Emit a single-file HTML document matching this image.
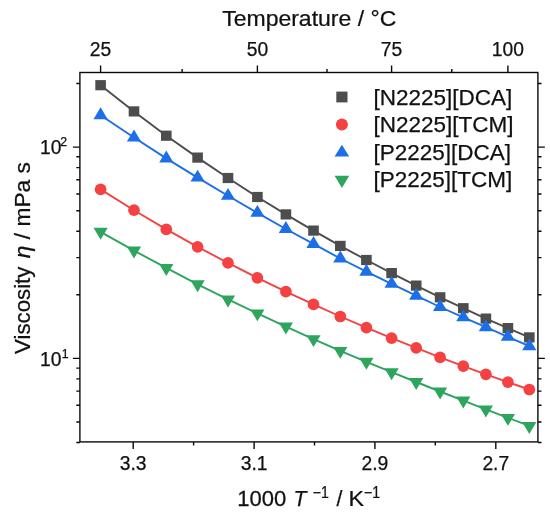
<!DOCTYPE html><html><head><meta charset="utf-8"><title>Viscosity</title>
<style>html,body{margin:0;padding:0;background:#fff}svg{display:block}text{font-family:"Liberation Sans",sans-serif;fill:#111;stroke:#111;stroke-width:0.25px}</style></head><body>
<svg width="550" height="516" viewBox="0 0 550 516">
<rect width="550" height="516" fill="#fff"/>
<polyline points="100.6,85.2 134.0,111.4 166.3,135.7 197.6,157.6 228.0,178.0 257.4,197.0 285.9,214.4 313.5,230.6 340.3,245.9 366.4,260.0 391.6,273.1 416.2,285.6 440.1,297.3 463.3,308.2 485.9,318.6 507.9,328.1 529.3,337.4" fill="none" stroke="#4d4d4d" stroke-width="1.9" stroke-linejoin="round"/>
<rect x="95.3" y="80.1" width="10.6" height="10.2" fill="#4d4d4d"/>
<rect x="128.7" y="106.3" width="10.6" height="10.2" fill="#4d4d4d"/>
<rect x="161.0" y="130.6" width="10.6" height="10.2" fill="#4d4d4d"/>
<rect x="192.3" y="152.5" width="10.6" height="10.2" fill="#4d4d4d"/>
<rect x="222.7" y="172.9" width="10.6" height="10.2" fill="#4d4d4d"/>
<rect x="252.1" y="191.9" width="10.6" height="10.2" fill="#4d4d4d"/>
<rect x="280.6" y="209.3" width="10.6" height="10.2" fill="#4d4d4d"/>
<rect x="308.2" y="225.5" width="10.6" height="10.2" fill="#4d4d4d"/>
<rect x="335.0" y="240.8" width="10.6" height="10.2" fill="#4d4d4d"/>
<rect x="361.1" y="254.9" width="10.6" height="10.2" fill="#4d4d4d"/>
<rect x="386.3" y="268.0" width="10.6" height="10.2" fill="#4d4d4d"/>
<rect x="410.9" y="280.5" width="10.6" height="10.2" fill="#4d4d4d"/>
<rect x="434.8" y="292.2" width="10.6" height="10.2" fill="#4d4d4d"/>
<rect x="458.0" y="303.1" width="10.6" height="10.2" fill="#4d4d4d"/>
<rect x="480.6" y="313.5" width="10.6" height="10.2" fill="#4d4d4d"/>
<rect x="502.6" y="323.0" width="10.6" height="10.2" fill="#4d4d4d"/>
<rect x="524.0" y="332.3" width="10.6" height="10.2" fill="#4d4d4d"/>
<polyline points="100.6,189.4 134.0,210.2 166.3,229.4 197.6,246.9 228.0,262.9 257.4,277.8 285.9,291.7 313.5,304.4 340.3,316.5 366.4,327.7 391.6,338.2 416.2,347.9 440.1,357.4 463.3,366.1 485.9,374.3 507.9,382.2 529.3,389.5" fill="none" stroke="#f44242" stroke-width="1.9" stroke-linejoin="round"/>
<circle cx="100.6" cy="189.4" r="5.85" fill="#f44242"/>
<circle cx="134.0" cy="210.2" r="5.85" fill="#f44242"/>
<circle cx="166.3" cy="229.4" r="5.85" fill="#f44242"/>
<circle cx="197.6" cy="246.9" r="5.85" fill="#f44242"/>
<circle cx="228.0" cy="262.9" r="5.85" fill="#f44242"/>
<circle cx="257.4" cy="277.8" r="5.85" fill="#f44242"/>
<circle cx="285.9" cy="291.7" r="5.85" fill="#f44242"/>
<circle cx="313.5" cy="304.4" r="5.85" fill="#f44242"/>
<circle cx="340.3" cy="316.5" r="5.85" fill="#f44242"/>
<circle cx="366.4" cy="327.7" r="5.85" fill="#f44242"/>
<circle cx="391.6" cy="338.2" r="5.85" fill="#f44242"/>
<circle cx="416.2" cy="347.9" r="5.85" fill="#f44242"/>
<circle cx="440.1" cy="357.4" r="5.85" fill="#f44242"/>
<circle cx="463.3" cy="366.1" r="5.85" fill="#f44242"/>
<circle cx="485.9" cy="374.3" r="5.85" fill="#f44242"/>
<circle cx="507.9" cy="382.2" r="5.85" fill="#f44242"/>
<circle cx="529.3" cy="389.5" r="5.85" fill="#f44242"/>
<polyline points="100.6,115.2 134.0,137.5 166.3,158.4 197.6,177.6 228.0,195.8 257.4,212.9 285.9,229.0 313.5,243.9 340.3,258.5 366.4,271.7 391.6,283.8 416.2,295.7 440.1,307.0 463.3,317.3 485.9,327.2 507.9,336.8 529.3,346.2" fill="none" stroke="#1c6fe6" stroke-width="1.9" stroke-linejoin="round"/>
<polygon points="100.6,107.3 93.5,119.2 107.7,119.2" fill="#1c6fe6"/>
<polygon points="134.0,129.6 126.9,141.5 141.1,141.5" fill="#1c6fe6"/>
<polygon points="166.3,150.5 159.2,162.4 173.4,162.4" fill="#1c6fe6"/>
<polygon points="197.6,169.7 190.5,181.6 204.7,181.6" fill="#1c6fe6"/>
<polygon points="228.0,187.9 220.9,199.8 235.1,199.8" fill="#1c6fe6"/>
<polygon points="257.4,204.9 250.3,216.8 264.5,216.8" fill="#1c6fe6"/>
<polygon points="285.9,221.1 278.8,233.0 293.0,233.0" fill="#1c6fe6"/>
<polygon points="313.5,236.0 306.4,247.9 320.6,247.9" fill="#1c6fe6"/>
<polygon points="340.3,250.5 333.2,262.4 347.4,262.4" fill="#1c6fe6"/>
<polygon points="366.4,263.8 359.3,275.7 373.5,275.7" fill="#1c6fe6"/>
<polygon points="391.6,275.9 384.5,287.8 398.7,287.8" fill="#1c6fe6"/>
<polygon points="416.2,287.8 409.1,299.7 423.3,299.7" fill="#1c6fe6"/>
<polygon points="440.1,299.0 433.0,310.9 447.2,310.9" fill="#1c6fe6"/>
<polygon points="463.3,309.4 456.2,321.3 470.4,321.3" fill="#1c6fe6"/>
<polygon points="485.9,319.3 478.8,331.2 493.0,331.2" fill="#1c6fe6"/>
<polygon points="507.9,328.8 500.8,340.7 515.0,340.7" fill="#1c6fe6"/>
<polygon points="529.3,338.3 522.2,350.2 536.4,350.2" fill="#1c6fe6"/>
<polyline points="100.6,231.8 134.0,250.6 166.3,267.9 197.6,284.3 228.0,299.4 257.4,313.4 285.9,326.6 313.5,339.2 340.3,350.8 366.4,361.8 391.6,372.2 416.2,382.0 440.1,391.5 463.3,400.6 485.9,409.4 507.9,417.8 529.3,425.9" fill="none" stroke="#2da55d" stroke-width="1.9" stroke-linejoin="round"/>
<polygon points="100.6,239.7 93.5,227.8 107.7,227.8" fill="#2da55d"/>
<polygon points="134.0,258.5 126.9,246.6 141.1,246.6" fill="#2da55d"/>
<polygon points="166.3,275.9 159.2,264.0 173.4,264.0" fill="#2da55d"/>
<polygon points="197.6,292.2 190.5,280.3 204.7,280.3" fill="#2da55d"/>
<polygon points="228.0,307.4 220.9,295.5 235.1,295.5" fill="#2da55d"/>
<polygon points="257.4,321.3 250.3,309.4 264.5,309.4" fill="#2da55d"/>
<polygon points="285.9,334.5 278.8,322.6 293.0,322.6" fill="#2da55d"/>
<polygon points="313.5,347.1 306.4,335.2 320.6,335.2" fill="#2da55d"/>
<polygon points="340.3,358.8 333.2,346.9 347.4,346.9" fill="#2da55d"/>
<polygon points="366.4,369.7 359.3,357.8 373.5,357.8" fill="#2da55d"/>
<polygon points="391.6,380.2 384.5,368.3 398.7,368.3" fill="#2da55d"/>
<polygon points="416.2,389.9 409.1,378.0 423.3,378.0" fill="#2da55d"/>
<polygon points="440.1,399.5 433.0,387.6 447.2,387.6" fill="#2da55d"/>
<polygon points="463.3,408.5 456.2,396.6 470.4,396.6" fill="#2da55d"/>
<polygon points="485.9,417.4 478.8,405.5 493.0,405.5" fill="#2da55d"/>
<polygon points="507.9,425.8 500.8,413.9 515.0,413.9" fill="#2da55d"/>
<polygon points="529.3,433.9 522.2,422.0 536.4,422.0" fill="#2da55d"/>
<rect x="79.9" y="72.5" width="458.0" height="369.4" fill="none" stroke="#0a0a0a" stroke-width="1.4"/>
<path d="M133.2,441.9v7 M254.1,441.9v7 M374.9,441.9v7 M495.8,441.9v7 M193.6,441.9v3.6 M314.5,441.9v3.6 M435.3,441.9v3.6 M100.6,72.5v-7 M257.4,72.5v-7 M391.6,72.5v-7 M507.9,72.5v-7 M182.1,72.5v-3.6 M327.0,72.5v-3.6 M451.8,72.5v-3.6 M79.9,358.4h-7 M537.9,358.4h7 M79.9,147.1h-7 M537.9,147.1h7 M79.9,442.5h-3.6 M537.9,442.5h3.6 M79.9,422.0h-3.6 M537.9,422.0h3.6 M79.9,405.3h-3.6 M537.9,405.3h3.6 M79.9,391.1h-3.6 M537.9,391.1h3.6 M79.9,378.9h-3.6 M537.9,378.9h3.6 M79.9,368.1h-3.6 M537.9,368.1h3.6 M79.9,294.8h-3.6 M537.9,294.8h3.6 M79.9,257.6h-3.6 M537.9,257.6h3.6 M79.9,231.2h-3.6 M537.9,231.2h3.6 M79.9,210.7h-3.6 M537.9,210.7h3.6 M79.9,194.0h-3.6 M537.9,194.0h3.6 M79.9,179.8h-3.6 M537.9,179.8h3.6 M79.9,167.6h-3.6 M537.9,167.6h3.6 M79.9,156.8h-3.6 M537.9,156.8h3.6 M79.9,83.5h-3.6 M537.9,83.5h3.6" stroke="#0a0a0a" stroke-width="1.4" fill="none"/>
<text x="133.2" y="470" font-size="19.3" text-anchor="middle">3.3</text>
<text x="254.1" y="470" font-size="19.3" text-anchor="middle">3.1</text>
<text x="374.9" y="470" font-size="19.3" text-anchor="middle">2.9</text>
<text x="495.8" y="470" font-size="19.3" text-anchor="middle">2.7</text>
<text x="100.6" y="55.5" font-size="19.3" text-anchor="middle">25</text>
<text x="257.4" y="55.5" font-size="19.3" text-anchor="middle">50</text>
<text x="391.6" y="55.5" font-size="19.3" text-anchor="middle">75</text>
<text x="507.9" y="55.5" font-size="19.3" text-anchor="middle">100</text>
<text x="40" y="154.3" font-size="19.3">10<tspan font-size="12.3" dx="-1.2" dy="-8.5">2</tspan></text>
<text x="40" y="365.6" font-size="19.3">10<tspan font-size="12.3" dx="0.3" dy="-7.9">1</tspan></text>
<text transform="translate(222.2,25.8) scale(1.085,1)" font-size="21.2">Temperature / °C</text>
<text transform="translate(237.2,506) scale(1.04,1)" font-size="21.2">1000</text>
<text transform="translate(293.6,506) scale(1.0,1)" font-size="21.2" font-style="italic">T</text>
<text transform="translate(312.8,497.7) scale(0.88,1)" font-size="16">−1</text>
<text transform="translate(336.4,506) scale(1.0,1)" font-size="21.2">/</text>
<text transform="translate(348.4,506) scale(1.1,1)" font-size="21.2">K</text>
<text transform="translate(364.1,497.7) scale(0.88,1)" font-size="16">−1</text>
<text transform="translate(29.9,353.9) rotate(-90) scale(1.049,1)" font-size="21.2">Viscosity</text>
<text transform="translate(29.9,258.2) rotate(-90) scale(1.075,1)" font-size="21.2"><tspan font-style="italic">η</tspan> / mPa s</text>
<rect x="336.3" y="91.6" width="11.2" height="10.8" fill="#4d4d4d"/>
<circle cx="341.9" cy="124.5" r="6.0" fill="#f44242"/>
<polygon points="341.9,144.7 334.59999999999997,156.6 349.2,156.6" fill="#1c6fe6"/>
<polygon points="341.9,188 334.59999999999997,175.8 349.2,175.8" fill="#2da55d"/>
<text x="373.5" y="104.6" font-size="22.5">[N2225][DCA]</text>
<text x="373.5" y="132.1" font-size="22.5">[N2225][TCM]</text>
<text x="373.5" y="159.6" font-size="22.5">[P2225][DCA]</text>
<text x="373.5" y="187.1" font-size="22.5">[P2225][TCM]</text>
</svg></body></html>
